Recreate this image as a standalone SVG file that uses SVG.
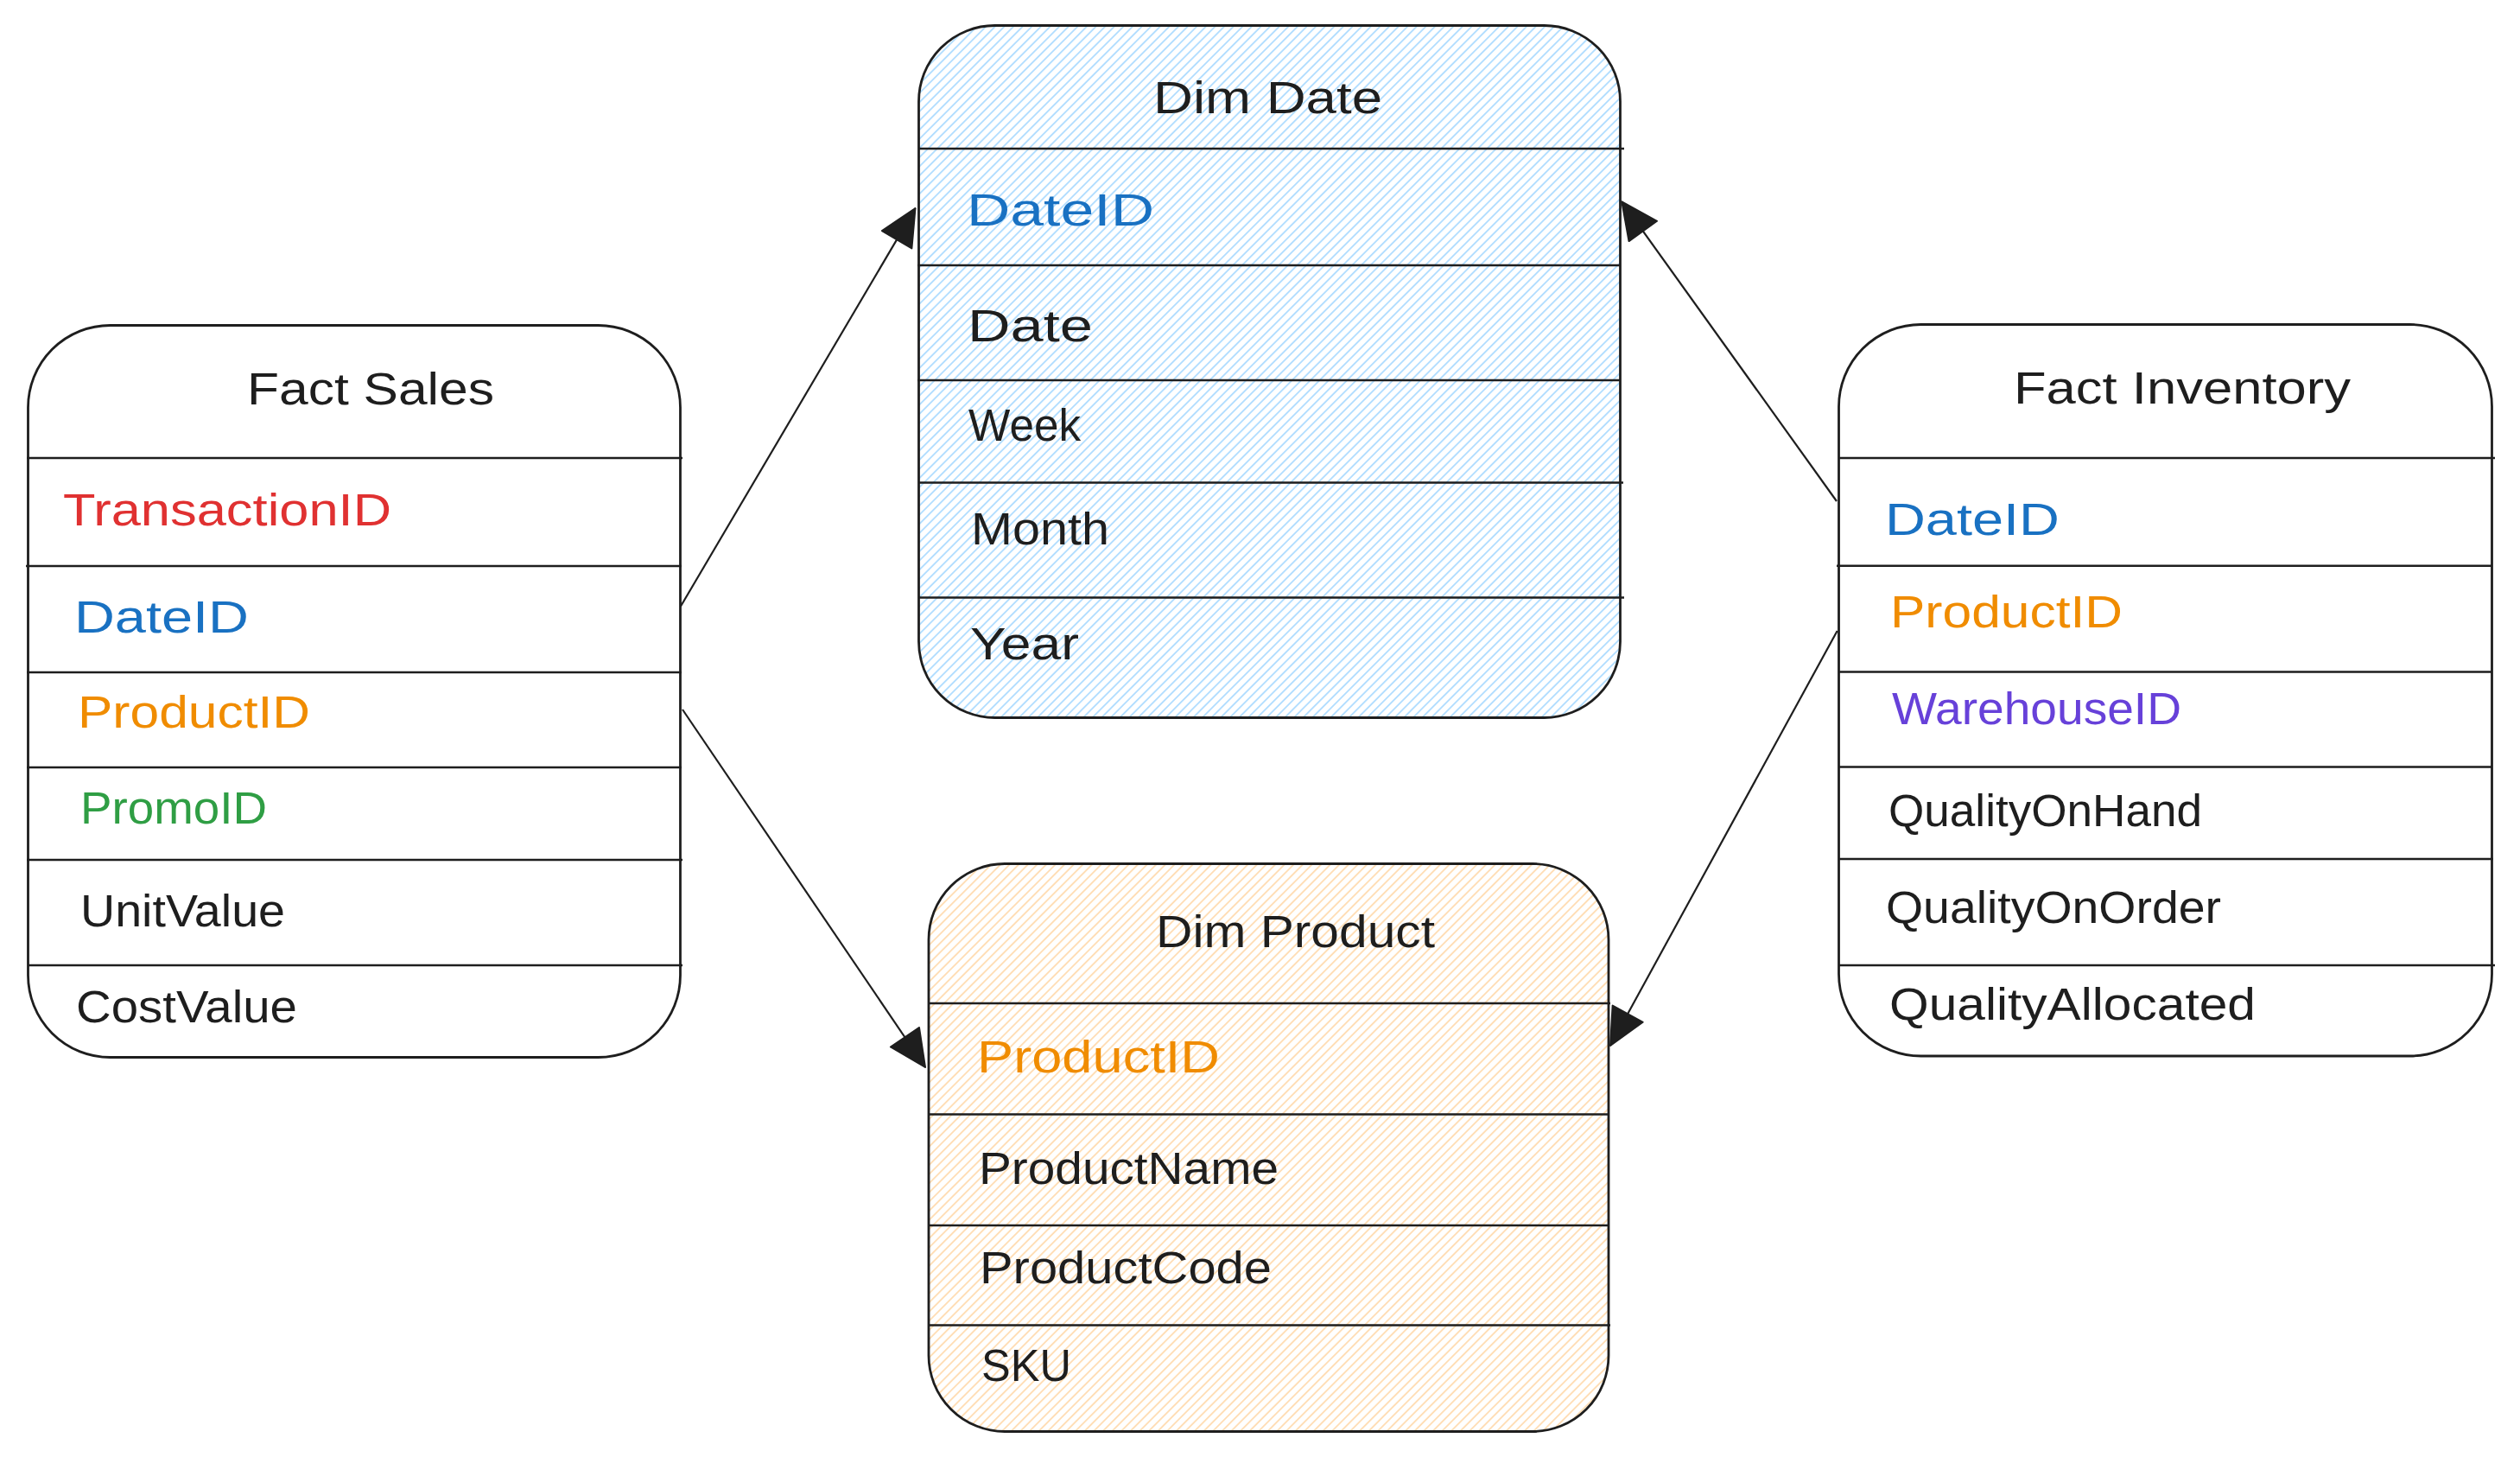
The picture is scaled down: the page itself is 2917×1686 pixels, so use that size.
<svg xmlns="http://www.w3.org/2000/svg" width="2917" height="1686" viewBox="0 0 2917 1686">
  <style>
    .box { stroke: #1e1e1e; stroke-width: 2.8; }
    .sep { stroke: #1e1e1e; stroke-width: 2.5; fill: none; }
    .t { font-family: "Liberation Sans", Arial, sans-serif; font-size: 51px; fill: #1e1e1e; }
    .red { fill: #e03131; }
    .blue { fill: #1971c2; }
    .orange { fill: #f08c00; }
    .green { fill: #2f9e44; }
    .purple { fill: #6741d9; }
    .conn { stroke: #1e1e1e; stroke-width: 2.2; fill: none; marker-end: url(#ah); }
  </style>
  <defs>
    <pattern id="hatchBlue" patternUnits="userSpaceOnUse" width="7.5" height="10" patternTransform="rotate(45)">
      <line x1="3.75" y1="-1" x2="3.75" y2="11" stroke="#a5d8ff" stroke-width="1.6"/>
    </pattern>
    <pattern id="hatchOrange" patternUnits="userSpaceOnUse" width="7.5" height="10" patternTransform="rotate(45)">
      <line x1="3.75" y1="-1" x2="3.75" y2="11" stroke="#ffd8a8" stroke-width="1.6"/>
    </pattern>
    <marker id="ah" markerUnits="userSpaceOnUse" markerWidth="52" markerHeight="52" viewBox="-47 -26 52 52" refX="0" refY="0" orient="auto">
      <path d="M0,0 L-42,-20 L-42,20 Z" fill="#1e1e1e" stroke="#1e1e1e" stroke-width="2" stroke-linejoin="round"/>
    </marker>
  </defs>
  <rect width="2917" height="1686" fill="#ffffff"/>

  <g id="connectors">
    <path class="conn" d="M787.7,702 L1059.5,241"/>
    <path class="conn" d="M790,821 L1071,1235"/>
    <path class="conn" d="M2126,580 L1877.3,233.3"/>
    <path class="conn" d="M2126.7,730 L1864,1210"/>
  </g>

  <g id="fact-sales">
    <rect class="box" x="32.5" y="376.5" width="755" height="847" rx="95" ry="95" fill="none"/>
    <path class="sep" d="M31,530 H790 M30,655 H789 M31,778 H789 M31,888 H789 M31,995 H790 M33,1117 H790"/>
    <text class="t" x="286" y="468" textLength="286" lengthAdjust="spacingAndGlyphs">Fact Sales</text>
    <text class="t red" x="73" y="608" textLength="380" lengthAdjust="spacingAndGlyphs">TransactionID</text>
    <text class="t blue" x="86" y="732" textLength="202" lengthAdjust="spacingAndGlyphs">DateID</text>
    <text class="t orange" x="90" y="842" textLength="269" lengthAdjust="spacingAndGlyphs">ProductID</text>
    <text class="t green" x="93" y="953" textLength="216" lengthAdjust="spacingAndGlyphs">PromoID</text>
    <text class="t" x="93" y="1072" textLength="237" lengthAdjust="spacingAndGlyphs">UnitValue</text>
    <text class="t" x="88" y="1183" textLength="256" lengthAdjust="spacingAndGlyphs">CostValue</text>
  </g>

  <g id="dim-date">
    <rect class="box" x="1063.5" y="29.5" width="812" height="801" rx="88" ry="88" fill="url(#hatchBlue)"/>
    <path class="sep" d="M1063,172 H1880 M1062,307 H1876 M1062,440 H1876 M1063,558.5 H1879 M1063,691.5 H1880"/>
    <text class="t" x="1335" y="131" textLength="265" lengthAdjust="spacingAndGlyphs">Dim Date</text>
    <text class="t blue" x="1119" y="261" textLength="217" lengthAdjust="spacingAndGlyphs">DateID</text>
    <text class="t" x="1120" y="395" textLength="145" lengthAdjust="spacingAndGlyphs">Date</text>
    <text class="t" x="1121" y="510" textLength="130" lengthAdjust="spacingAndGlyphs">Week</text>
    <text class="t" x="1124" y="630" textLength="160" lengthAdjust="spacingAndGlyphs">Month</text>
    <text class="t" x="1123" y="763" textLength="126" lengthAdjust="spacingAndGlyphs">Year</text>
  </g>

  <g id="dim-product">
    <rect class="box" x="1075" y="999.5" width="787" height="657" rx="88" ry="88" fill="url(#hatchOrange)"/>
    <path class="sep" d="M1076,1161 H1864 M1074,1289.5 H1862 M1075,1418 H1863 M1076,1533.5 H1864"/>
    <text class="t" x="1338" y="1095.5" textLength="323" lengthAdjust="spacingAndGlyphs">Dim Product</text>
    <text class="t orange" x="1131" y="1241" textLength="281" lengthAdjust="spacingAndGlyphs">ProductID</text>
    <text class="t" x="1133" y="1370" textLength="347" lengthAdjust="spacingAndGlyphs">ProductName</text>
    <text class="t" x="1134" y="1485" textLength="338" lengthAdjust="spacingAndGlyphs">ProductCode</text>
    <text class="t" x="1136" y="1598" textLength="104" lengthAdjust="spacingAndGlyphs">SKU</text>
  </g>

  <g id="fact-inventory">
    <rect class="box" x="2128.5" y="375.5" width="756" height="846.5" rx="95" ry="95" fill="none"/>
    <path class="sep" d="M2129,530 H2888 M2126,654.7 H2884 M2129,777.5 H2884 M2129,887.5 H2885 M2129,994 H2886 M2129,1117 H2888"/>
    <text class="t" x="2331" y="467" textLength="390" lengthAdjust="spacingAndGlyphs">Fact Inventory</text>
    <text class="t blue" x="2182" y="619" textLength="202" lengthAdjust="spacingAndGlyphs">DateID</text>
    <text class="t orange" x="2188" y="726" textLength="269" lengthAdjust="spacingAndGlyphs">ProductID</text>
    <text class="t purple" x="2190" y="838" textLength="335" lengthAdjust="spacingAndGlyphs">WarehouseID</text>
    <text class="t" x="2186" y="956" textLength="363" lengthAdjust="spacingAndGlyphs">QualityOnHand</text>
    <text class="t" x="2183" y="1068" textLength="388" lengthAdjust="spacingAndGlyphs">QualityOnOrder</text>
    <text class="t" x="2187" y="1180" textLength="424" lengthAdjust="spacingAndGlyphs">QualityAllocated</text>
  </g>
</svg>
